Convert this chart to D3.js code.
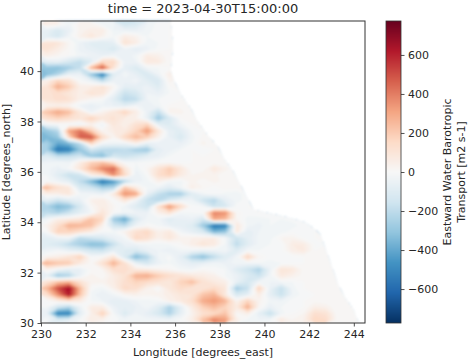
<!DOCTYPE html>
<html>
<head>
<meta charset="utf-8">
<style>
  html, body { margin: 0; background: #fff; }
  text { font-family: "DejaVu Sans", sans-serif; fill: #262626; }
</style>
<script src="https://cdn.jsdelivr.net/npm/d3@7"></script>
</head>
<body>
<div id="wrapper"></div>
<script>
// Access data: cell centres in degrees, rows run north to south, columns west to east
const lons = d3.range(29).map(i => 230.25 + i * 0.5)
const lats = d3.range(48).map(i => 41.875 - i * 0.25)

const transport = [
  [60,40,-30,30,20,-30,-40,-150,-120,-40,-10,0,0],
  [-60,-120,-60,30,50,60,-40,-50,-60,-30,-10,0,0],
  [-80,-130,-30,40,90,30,-20,60,30,-20,-20,0,0],
  [100,100,20,-50,-90,-100,-70,110,60,-30,-20,0,0],
  [110,60,10,-50,-70,-90,-120,-40,-80,-50,-10,0,0],
  [50,20,0,-30,-40,-60,-30,-60,-30,60,40,0,0],
  [-70,-60,-130,-190,-100,150,150,-50,-40,80,70,0,0],
  [-300,-320,-260,-180,250,480,100,-70,-110,-30,-20,0,0],
  [-330,-230,-60,-50,-300,-540,-100,-20,-70,-120,-40,50,0],
  [40,160,110,-10,-60,-200,-50,-50,-30,-90,-120,30,0],
  [100,280,200,50,60,110,20,-80,-70,-50,-100,0,0],
  [110,130,90,50,110,90,-30,-170,-130,-40,-60,-20,0],
  [100,130,120,40,10,-10,-90,-210,-190,-40,-20,-20,0,0],
  [30,40,20,-40,-70,-40,-60,-80,-20,-60,-30,10,10,0],
  [220,300,240,80,-40,30,90,170,60,-50,-180,40,30,0],
  [130,170,130,100,180,90,110,60,40,-60,-280,-120,0,0,0],
  [-40,-20,-20,-50,30,-40,90,40,120,170,-60,-100,-30,0,0],
  [-300,-220,300,420,200,20,60,70,170,340,100,-70,-90,-20,0,0],
  [-350,-300,150,470,480,150,20,160,250,180,40,-60,-120,-30,10,0],
  [-250,-400,-350,-200,150,-30,-40,-40,40,-70,-50,-60,-60,-20,30,0],
  [-250,-560,-520,-300,-150,-200,-220,-200,-260,-280,-70,-50,-20,0,-20,0,0],
  [-100,-190,-180,-150,-290,-330,-140,-170,-130,-80,-60,-20,-10,0,0,0,0],
  [-40,-20,-40,60,180,220,100,-10,-20,-10,0,0,-10,0,20,0,0,0],
  [-30,-60,-10,100,250,380,450,100,-40,20,110,200,90,0,0,80,30,0,0],
  [-20,-90,-180,-150,50,120,350,150,-60,-10,130,180,70,20,40,30,0,0,0],
  [-10,-40,-80,-200,-350,-560,-450,-220,-60,-30,40,-20,-30,30,0,30,10,0,0],
  [250,130,80,-120,-150,-250,-220,200,60,-20,-40,-90,-30,50,20,-10,20,10,0,0],
  [40,50,80,-20,-30,-50,80,350,300,-60,-180,-250,-260,-100,-30,0,-30,-40,0,0],
  [-70,-150,-90,-60,40,60,-10,90,-30,-180,-220,-120,-50,-40,-160,-220,-70,-30,-10,0],
  [-240,-350,-300,-130,10,60,20,-40,-100,-160,120,340,150,-10,-20,-160,-130,-10,0,0,0,0,0],
  [-200,-240,-160,-80,-30,100,0,-30,-40,-50,40,110,-30,-20,0,380,350,10,-10,0,-10,0,0,-5,0],
  [-30,50,60,90,220,160,-280,-400,-120,-30,-30,-100,-60,-50,-130,300,250,20,-30,-30,-20,-20,-10,-20,-10,0],
  [30,130,270,260,230,40,-150,-200,-40,-10,-20,-60,-70,-100,-280,-560,-520,80,-30,-50,-20,-40,-30,-10,-20,0],
  [-10,180,170,120,60,-10,-20,40,120,160,40,80,-30,-70,-120,-350,-300,80,-80,-40,-30,-30,-10,-10,0,0],
  [-80,-50,-30,-200,-150,-120,-60,-30,160,130,40,90,30,40,50,60,-20,-160,-80,-30,-30,20,30,-5,0,0],
  [-100,-130,-200,-260,-330,-320,-180,-50,-40,-30,-30,-20,10,50,100,70,-20,-200,-90,-30,-20,-10,60,60,-5,0],
  [-40,-20,-60,-90,-140,-160,-70,-100,-120,-60,-40,-60,-30,-30,-50,-40,-30,-100,-20,-20,-10,-10,50,70,0,0],
  [30,50,100,180,-10,10,100,-120,-340,-240,-40,-10,-80,-240,-320,-200,-100,-30,170,20,-10,-5,-10,0,0,0],
  [270,220,200,70,10,120,270,120,-60,-130,-50,-20,-50,-80,-60,-30,-50,-30,-30,-20,-30,-20,-10,0,0,0,0],
  [30,-30,-80,-60,0,20,130,140,70,60,30,10,-20,-30,10,-10,-20,-100,-160,-240,-50,100,80,10,0,0,0],
  [-70,-280,-230,-50,30,0,60,110,270,290,200,140,110,80,60,40,-20,-50,-110,-170,-30,70,40,10,0,0,0],
  [110,220,260,120,30,30,60,130,170,140,110,80,180,240,120,70,50,-60,-130,-30,-40,-20,-20,0,5,0,0,0],
  [250,500,650,250,-10,-30,40,150,130,40,-10,90,140,100,100,150,90,-260,-180,170,-60,-180,-30,0,0,0,0,0],
  [120,350,620,220,-30,-60,-30,20,40,20,30,50,90,100,220,260,70,-120,-70,60,-70,-170,-40,-10,0,0,0,0],
  [-10,50,100,60,-20,-40,-80,-70,-40,-30,-20,40,70,130,290,340,260,30,170,30,-30,-40,-10,0,10,0,0,0],
  [-20,-150,-230,-50,60,60,-50,-80,-60,-30,-90,-250,-80,60,180,240,170,70,280,20,-60,-20,-5,0,50,40,0,0,0],
  [-60,-520,-520,-80,40,180,-20,-110,-40,-70,-130,-240,-70,30,120,150,220,10,50,-70,-180,-30,0,20,130,110,0,0,0],
  [-10,-90,-60,-10,60,30,-10,-30,-20,-30,-20,-30,-10,50,230,380,320,50,-30,-40,-20,70,20,40,160,140,10,0,0],
]

// Edge of the data against the land, north to south
const coastLon = [235.8,235.9,235.8,236,236.3,236.7,237,237.4,237.9,238.2,238.6,238.9,239.2,239.5,240,241,241.8,242.2,242.5,242.7,242.9,243.1,243.3,243.6,244,244.2]
const coastLat = [42,41,40,39.5,39,38.5,38,37.5,37,36.5,36,35.5,35,34.5,34.4,34.2,34,33.75,33.5,33,32.5,32,31.5,31,30.5,30]

const xTicks = [230,232,234,236,238,240,242,244]
const yTicks = [30,32,34,36,38,40]
const colorTicks = [-600,-400,-200,0,200,400,600]
const colormap = ["#053061","#2166ac","#4393c3","#92c5de","#d1e5f0","#f7f7f7","#fddbc7","#f4a582","#d6604d","#b2182b","#67001f"]
const vmax = 774

const dimensions = {
  width: 474,
  height: 363,
  margin: { top: 21, right: 109, bottom: 40, left: 41 },
}
dimensions.boundedWidth = dimensions.width - dimensions.margin.left - dimensions.margin.right
dimensions.boundedHeight = dimensions.height - dimensions.margin.top - dimensions.margin.bottom

const wrapper = d3.select("#wrapper")
  .append("svg")
    .attr("width", dimensions.width)
    .attr("height", dimensions.height)
    .style("display", "block")

const bounds = wrapper.append("g")
  .attr("transform", `translate(${dimensions.margin.left},${dimensions.margin.top})`)

// Scales
const xScale = d3.scaleLinear().domain([230, 244.5]).range([0, dimensions.boundedWidth])
const yScale = d3.scaleLinear().domain([30, 41.99]).range([dimensions.boundedHeight, 0])
const colorScale = d3.scaleLinear()
  .domain(d3.quantize(d3.interpolate(-vmax, vmax), colormap.length))
  .range(colormap)

// Clip to the ocean, a light blur takes the hard edge off the contour bands
const defs = wrapper.append("defs")
const coastLine = coastLon.map((lon, i) => [xScale(lon), yScale(coastLat[i])])
defs.append("clipPath").attr("id", "ocean")
  .append("polygon")
    .attr("points", [[0, 0], ...coastLine, [0, dimensions.boundedHeight]].join(" "))

defs.append("filter").attr("id", "soften")
    .attr("filterUnits", "userSpaceOnUse")
    .attr("x", -30).attr("y", -30)
    .attr("width", dimensions.boundedWidth + 60)
    .attr("height", dimensions.boundedHeight + 60)
  .append("feGaussianBlur")
    .attr("stdDeviation", 1.2)

// d3.contours wants a flat rectangular grid, columns past the end of a row are land
const grid = transport.flatMap(row => lons.map((lon, c) => row[c] ?? 0))
const thresholds = d3.range(-780, 780, 20)

const contours = d3.contours()
  .size([lons.length, lats.length])
  .thresholds(thresholds)(grid)

// Contour coordinates are grid units, 0 on the west/north edge of the first cell
const project = d3.geoTransform({
  point(gx, gy) {
    this.stream.point(
      xScale(lons[0] + (gx - 0.5) * (lons[1] - lons[0])),
      yScale(lats[0] + (gy - 0.5) * (lats[1] - lats[0]))
    )
  },
})

bounds.append("g")
    .attr("filter", "url(#soften)")
  .append("g")
    .attr("clip-path", "url(#ocean)")
  .selectAll("path")
  .data(contours)
  .join("path")
    .attr("d", d3.geoPath(project))
    .attr("fill", d => colorScale(d.value + 10))

// Axes
function styleAxis(axis) {
  axis.selectAll("text").style("font-size", "11px")
  axis.selectAll("line").attr("stroke", "#262626").attr("stroke-width", 0.8)
  axis.select(".domain").remove()
}

const xAxis = bounds.append("g")
  .attr("transform", `translate(0,${dimensions.boundedHeight})`)
  .call(d3.axisBottom(xScale).tickValues(xTicks).tickFormat(d3.format("d")).tickSize(3.5).tickPadding(3.5))
  .call(styleAxis)

const yAxis = bounds.append("g")
  .call(d3.axisLeft(yScale).tickValues(yTicks).tickFormat(d3.format("d")).tickSize(3.5).tickPadding(3.5))
  .call(styleAxis)

bounds.append("rect")
  .attr("width", dimensions.boundedWidth)
  .attr("height", dimensions.boundedHeight)
  .attr("fill", "none")
  .attr("stroke", "#333")
  .attr("stroke-width", 1)

bounds.append("text")
  .attr("x", dimensions.boundedWidth / 2)
  .attr("y", -8)
  .attr("text-anchor", "middle")
  .style("font-size", "13px")
  .text("time = 2023-04-30T15:00:00")

bounds.append("text")
  .attr("x", dimensions.boundedWidth / 2)
  .attr("y", dimensions.boundedHeight + 33)
  .attr("text-anchor", "middle")
  .style("font-size", "11px")
  .text("Longitude [degrees_east]")

bounds.append("text")
  .attr("transform", `translate(-31,${dimensions.boundedHeight / 2}) rotate(-90)`)
  .attr("text-anchor", "middle")
  .style("font-size", "11px")
  .text("Latitude [degrees_north]")

// Colorbar
const barLeft = 345
const barWidth = 15
const barScale = d3.scaleLinear().domain([-vmax, vmax]).range([dimensions.boundedHeight, 0])

const colorbar = bounds.append("g")
  .attr("transform", `translate(${barLeft},0)`)

colorbar.selectAll("rect")
  .data(d3.range(dimensions.boundedHeight))
  .join("rect")
    .attr("y", d => d)
    .attr("width", barWidth)
    .attr("height", 1)
    .attr("shape-rendering", "crispEdges")
    .attr("fill", d => colorScale(barScale.invert(d + 0.5)))

colorbar.append("rect")
  .attr("width", barWidth)
  .attr("height", dimensions.boundedHeight)
  .attr("fill", "none")
  .attr("stroke", "#333")
  .attr("stroke-width", 0.8)

colorbar.append("g")
  .attr("transform", `translate(${barWidth},0)`)
  .call(d3.axisRight(barScale).tickValues(colorTicks).tickFormat(d3.format("d")).tickSize(3.5).tickPadding(3.5))
  .call(styleAxis)

const barLabel = colorbar.append("text")
  .attr("transform", `translate(65,${dimensions.boundedHeight / 2}) rotate(-90)`)
  .attr("text-anchor", "middle")
  .style("font-size", "11px")

barLabel.append("tspan").attr("x", 0).attr("dy", 0).text("Eastward Water Barotropic")
barLabel.append("tspan").attr("x", 0).attr("dy", 14).text("Transport [m2 s-1]")
</script>
</body>
</html>
